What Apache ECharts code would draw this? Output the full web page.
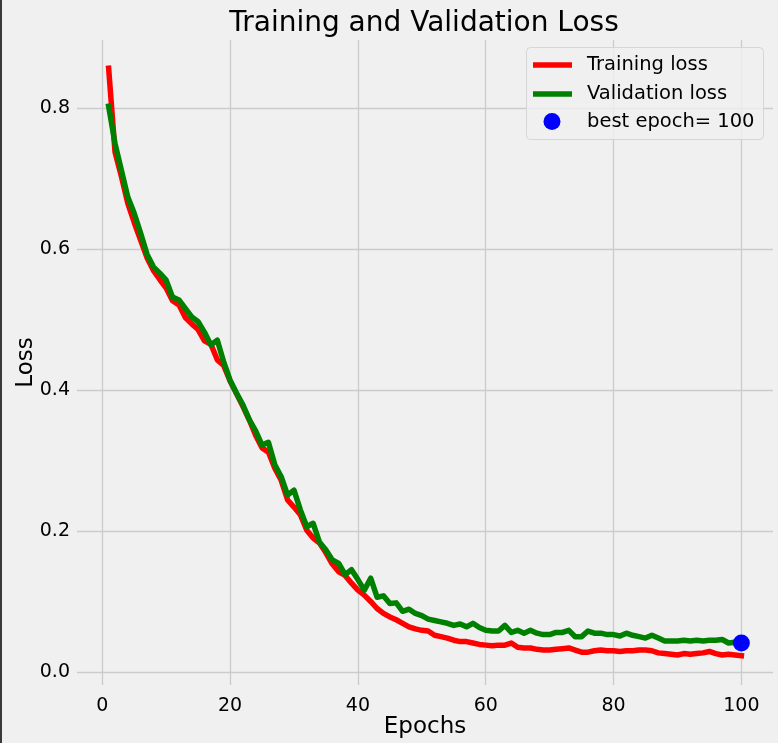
<!DOCTYPE html>
<html>
<head>
<meta charset="utf-8">
<script src="https://cdn.jsdelivr.net/npm/echarts@6/dist/echarts.min.js"></script>
<style>
  html, body { margin: 0; padding: 0; background: #f0f0f0; }
  #chart { width: 778px; height: 743px; }
</style>
</head>
<body>
<div id="chart"></div>
<script>
// loss per epoch (epochs 1..100)
const trainLoss = [
  0.857, 0.738, 0.703, 0.665, 0.638, 0.613, 0.588, 0.570, 0.557, 0.545,
  0.527, 0.521, 0.503, 0.494, 0.486, 0.470, 0.465, 0.443, 0.435, 0.413,
  0.395, 0.377, 0.358, 0.336, 0.318, 0.312, 0.289, 0.272, 0.244, 0.234,
  0.223, 0.201, 0.190, 0.183, 0.169, 0.153, 0.142, 0.137, 0.126, 0.116,
  0.109, 0.100, 0.090, 0.083, 0.078, 0.074, 0.069, 0.064, 0.061, 0.059,
  0.058, 0.052, 0.050, 0.048, 0.045, 0.043, 0.043, 0.041, 0.039, 0.038,
  0.037, 0.038, 0.038, 0.041, 0.035, 0.034, 0.034, 0.032, 0.031, 0.031,
  0.032, 0.033, 0.034, 0.031, 0.028, 0.028, 0.030, 0.031, 0.030, 0.030,
  0.029, 0.030, 0.030, 0.031, 0.031, 0.030, 0.027, 0.026, 0.025, 0.024,
  0.026, 0.025, 0.026, 0.027, 0.029, 0.026, 0.024, 0.025, 0.024, 0.023
];
const valLoss = [
  0.803, 0.750, 0.712, 0.674, 0.651, 0.623, 0.593, 0.575, 0.566, 0.556,
  0.532, 0.528, 0.516, 0.504, 0.497, 0.482, 0.464, 0.471, 0.440, 0.414,
  0.396, 0.379, 0.358, 0.342, 0.322, 0.326, 0.294, 0.277, 0.251, 0.258,
  0.230, 0.206, 0.211, 0.184, 0.173, 0.159, 0.154, 0.138, 0.145, 0.131,
  0.116, 0.133, 0.106, 0.108, 0.097, 0.098, 0.086, 0.089, 0.083, 0.080,
  0.075, 0.073, 0.071, 0.069, 0.066, 0.068, 0.064, 0.069, 0.063, 0.059,
  0.058, 0.058, 0.066, 0.056, 0.059, 0.055, 0.059, 0.055, 0.053, 0.053,
  0.056, 0.056, 0.059, 0.050, 0.050, 0.058, 0.055, 0.055, 0.053, 0.053,
  0.051, 0.055, 0.052, 0.050, 0.048, 0.052, 0.048, 0.044, 0.044, 0.044,
  0.045, 0.044, 0.045, 0.044, 0.045, 0.045, 0.046, 0.041, 0.042, 0.041
];
const bestEpoch = 100;
const bestLoss = 0.041;

const xTicks = [0, 20, 40, 60, 80, 100];
const yTicks = [0, 0.2, 0.4, 0.6, 0.8];

const font = 'DejaVu Sans';

const chart = echarts.init(document.getElementById('chart'));

const gridLines = [];
xTicks.forEach(v => gridLines.push({ xAxis: v }));
yTicks.forEach(v => gridLines.push({ yAxis: v }));

const legendText = { fontFamily: font, fontSize: 19.5, lineHeight: 17, color: '#000', padding: [0, 0, 0, 10] };

const options = {
  backgroundColor: '#f0f0f0',
  animation: false,
  textStyle: { fontFamily: font, color: '#000' },
  title: {
    text: 'Training and Validation Loss',
    left: 424,
    top: 10,
    padding: 0,
    textAlign: 'center',
    textStyle: { fontFamily: font, fontSize: 28, fontWeight: 'normal', color: '#000' }
  },
  graphic: [
    { type: 'rect', left: 0, top: 0, shape: { width: 2, height: 743 }, style: { fill: '#3a3a3a' } },
    // legend frame
    {
      type: 'rect', left: 526, top: 47, z: 5,
      shape: { width: 237, height: 92, r: 4 },
      style: { fill: 'rgba(240,240,240,0.8)', stroke: '#d6d6d6', lineWidth: 1 }
    }
  ],
  legend: [
    {
      left: 533,
      top: 55,
      z: 6,
      orient: 'vertical',
      padding: 0,
      itemWidth: 39,
      itemHeight: 17,
      itemGap: 9,
      textStyle: legendText,
      data: [
        { name: 'Training loss', icon: 'path://M0 0H39V5.5H0Z' },
        { name: 'Validation loss', icon: 'path://M0 0H39V5.5H0Z' }
      ]
    },
    {
      left: 543.5,
      top: 111.5,
      z: 6,
      orient: 'vertical',
      padding: 0,
      itemWidth: 17,
      itemHeight: 17,
      textStyle: Object.assign({}, legendText, { padding: [0, 0, 0, 21.5] }),
      data: [
        { name: 'best epoch= 100', icon: 'circle' }
      ]
    }
  ],
  grid: {
    left: 77,
    right: 5,
    top: 40,
    bottom: 58,
    outerBoundsMode: 'none',
    containLabel: false
  },
  xAxis: {
    type: 'value',
    min: -3.95,
    max: 104.95,
    name: 'Epochs',
    nameLocation: 'middle',
    nameGap: 31,
    nameMoveOverlap: false,
    nameTextStyle: { fontFamily: font, fontSize: 23, color: '#000' },
    axisLine: { show: false },
    axisTick: { show: false },
    splitLine: { show: false },
    axisLabel: {
      customValues: xTicks,
      margin: 12,
      fontFamily: font,
      fontSize: 19,
      color: '#000'
    }
  },
  yAxis: {
    type: 'value',
    min: -0.0186,
    max: 0.897,
    name: 'Loss',
    nameLocation: 'middle',
    nameGap: 39,
    nameMoveOverlap: false,
    nameTextStyle: { fontFamily: font, fontSize: 23, color: '#000' },
    axisLine: { show: false },
    axisTick: { show: false },
    splitLine: { show: false },
    axisLabel: {
      customValues: yTicks,
      margin: 7,
      fontFamily: font,
      fontSize: 19,
      color: '#000',
      formatter: v => v.toFixed(1)
    }
  },
  series: [
    {
      name: 'Training loss',
      type: 'line',
      z: 2,
      symbol: 'none',
      data: trainLoss.map((v, i) => [i + 1, v]),
      lineStyle: { color: '#ff0000', width: 5.5, cap: 'square', join: 'round' },
      itemStyle: { color: '#ff0000' },
      markLine: {
        silent: true,
        z: 1,
        symbol: ['none', 'none'],
        label: { show: false },
        emphasis: { disabled: true },
        lineStyle: { color: '#cbcbcb', width: 1.3, type: 'solid' },
        data: gridLines
      }
    },
    {
      name: 'Validation loss',
      type: 'line',
      z: 3,
      symbol: 'none',
      data: valLoss.map((v, i) => [i + 1, v]),
      lineStyle: { color: '#008000', width: 5.5, cap: 'square', join: 'round' },
      itemStyle: { color: '#008000' }
    },
    {
      name: 'best epoch= 100',
      type: 'scatter',
      z: 4,
      symbolSize: 17,
      data: [[bestEpoch, bestLoss]],
      itemStyle: { color: '#0000ff', opacity: 1 }
    }
  ]
};

chart.setOption(options);
</script>
</body>
</html>
